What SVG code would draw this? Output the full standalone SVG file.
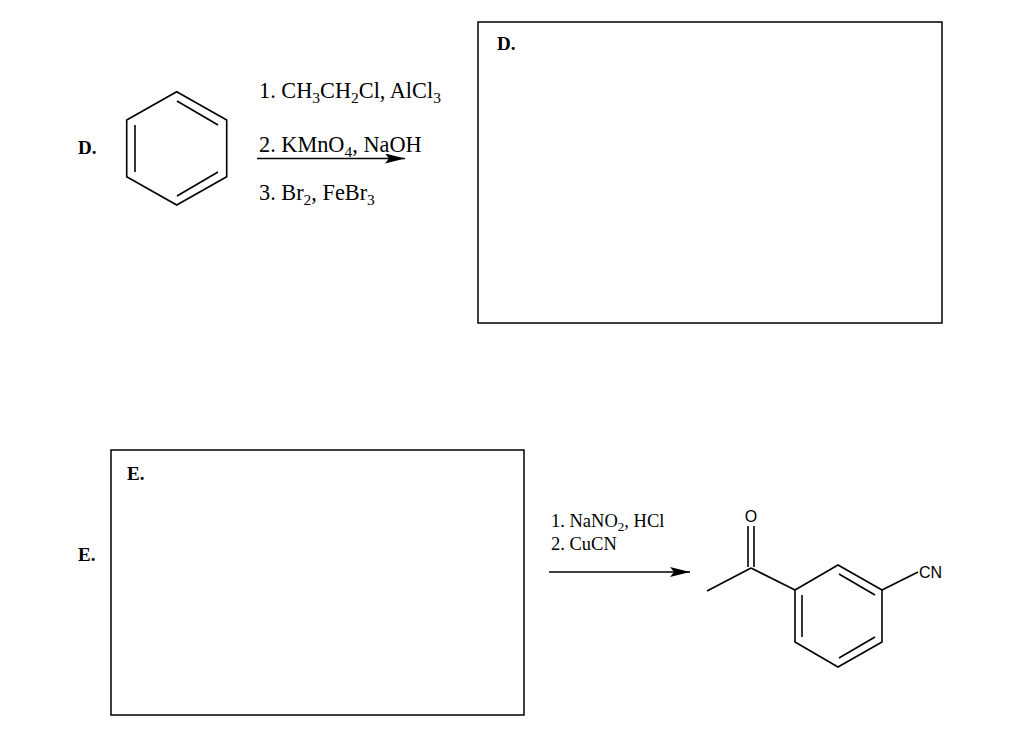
<svg xmlns="http://www.w3.org/2000/svg" width="1024" height="746" viewBox="0 0 1024 746">
<style>
.t{font-family:"Liberation Serif",serif;font-size:22.3px;fill:#000}
.s{font-family:"Liberation Serif",serif;font-size:18.5px;fill:#000}
.b{font-family:"Liberation Serif",serif;font-size:19px;font-weight:bold;fill:#000}
.l{stroke:#000;stroke-width:1.6;fill:none}
.box{stroke:#000;stroke-width:1.5;fill:#fff}
</style>
<defs><marker id="ah" markerWidth="20" markerHeight="10" refX="20" refY="5" orient="auto" markerUnits="userSpaceOnUse"><path d="M0,0 L20,5 L0,10 L4,5 Z" fill="#000"/></marker></defs>
<g id="labels">
<text class="b" x="78" y="154">D.</text>
<text class="b" x="78" y="561">E.</text>
</g>
<g id="benzene" class="l">
<polygon points="176.7,91.7 226.7,120 226.7,176.7 176.7,205 126.7,176.7 126.7,120"/>
<line x1="177" y1="101" x2="218" y2="125"/>
<line x1="218" y1="172" x2="177" y2="196"/>
<line x1="135" y1="125" x2="135" y2="172"/>
</g>
<g id="reagentsD">
<text class="t" x="259" y="98">1. CH<tspan font-size="15.5" dy="5">3</tspan><tspan dy="-5">CH</tspan><tspan font-size="15.5" dy="5">2</tspan><tspan dy="-5">Cl, AlCl</tspan><tspan font-size="15.5" dy="5">3</tspan></text>
<text class="t" x="259" y="152">2. KMnO<tspan font-size="15.5" dy="5">4</tspan><tspan dy="-5">, NaOH</tspan></text>
<text class="t" x="259" y="200">3. Br<tspan font-size="15.5" dy="5">2</tspan><tspan dy="-5">, FeBr</tspan><tspan font-size="15.5" dy="5">3</tspan></text>
</g>
<g id="boxD"><rect class="box" x="478" y="22" width="464" height="301"/><text class="b" x="497" y="50">D.</text></g>
<g id="boxE"><rect class="box" x="111" y="450" width="413" height="265"/><text class="b" x="127" y="480">E.</text></g>
<g id="reagentsE">
<text class="s" x="551" y="527">1. NaNO<tspan font-size="13" dy="4">2</tspan><tspan dy="-4">, HCl</tspan></text>
<text class="s" x="551" y="550">2. CuCN</text>
</g>
<g id="connectors">
<line class="l" x1="257" y1="158.5" x2="405" y2="158.5" marker-end="url(#ah)"/>
<line class="l" x1="549" y1="572" x2="690" y2="572" marker-end="url(#ah)"/>
</g>
<g id="product">
<g class="l">
<polygon points="795,590 838,565 882,590 882,642 838,667 795,642"/>
<line x1="839" y1="574" x2="875" y2="595"/>
<line x1="802" y1="595" x2="802" y2="637"/>
<line x1="875" y1="637" x2="839" y2="658"/>
<line x1="795" y1="590" x2="751" y2="568"/>
<line x1="751" y1="568" x2="707" y2="591"/>
<line x1="748" y1="526" x2="748" y2="567"/>
<line x1="754" y1="526" x2="754" y2="567"/>
<line x1="882" y1="590" x2="918" y2="572"/>
</g>
<text x="751" y="522" text-anchor="middle" font-family="Liberation Sans,sans-serif" font-size="16">O</text>
<text x="919" y="578" font-family="Liberation Sans,sans-serif" font-size="16">CN</text>
</g>
</svg>
